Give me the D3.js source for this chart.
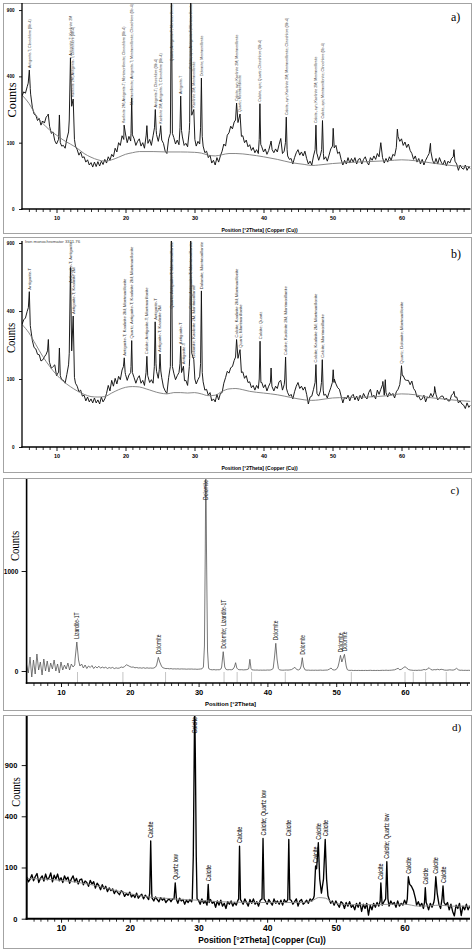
<!DOCTYPE html>
<html>
<head>
<meta charset="utf-8">
<script src="https://cdn.jsdelivr.net/npm/d3@7/dist/d3.min.js"></script>
<style>
html,body{margin:0;padding:0;background:#fff;}
svg{display:block;}
</style>
</head>
<body>
<svg id="chart" width="474" height="950" xmlns="http://www.w3.org/2000/svg"></svg>
<script>
// ================= DATA =================
const GRID_START = 5, GRID_STEP = 0.25;   // scan step (°2θ)
const xTickLabels = [10, 20, 30, 40, 50, 60];
const sqrtYTicks = [0, 100, 400, 900];
const linYTicks = [0, 1000];
const xTitleFull = "Position [°2Theta] (Copper (Cu))";
const xTitleShort = "Position [°2Theta]";
const yTitle = "Counts";
const bNote = "Iron monochromator  3311.76";

// ---- panel a ----
const aCounts = [
 290,312,305,340, 400,300,235,205, 200,178,186,160, 176,168,192,200, 155,130,135,106,
 96,108,150,90, 92,84,112,135, 400,250,200,90, 80,66,74,60, 62,50,55,44,
 49,40,50,41, 51,42,52,45, 56,48,62,54, 68,62,84,74, 100,92,122,110,
 128,100,120,105, 120,112,92,104, 112,90,100,84, 124,98,110,92, 122,180,126,104,
 132,108,98,76, 70,112,200,200, 116,96,108,94, 200,118,92,98, 88,140,500,200,
 150,90,104,96, 200,90,72,76, 60,66,48,54, 44,60,50,64, 76,96,90,124,
 132,156,146,172, 200,180,190,150, 122,100,108,88, 94,78,86,72, 80,70,150,88,
 74,82,68,78, 96,80,72,82, 74,94,113,70, 76,150,64,56, 58,46,60,72,
 80,66,74,64, 76,58,46,52, 44,64,120,70, 54,66,120,56, 62,52,66,82,
 120,110,92,70, 74,56,44,54, 46,60,48,58, 50,60,46,56, 58,46,56,62,
 50,44,60,54, 64,56,70,62, 100,60,48,58, 50,62,54,68, 64,86,120,104,
 112,92,102,86, 96,78,70,56, 64,50,58,46, 56,44,54,62, 70,76,54,46,
 58,46,60,50, 44,54,42,52, 48,58,62,52, 46,34,44,38, 36,44,34,40, 37
];
const aPeaks = [
 [[5.9,360],[6.06,439],[6.2,330]],
 [[8.8,205]],
 [[10.3,110],[10.42,201],[10.55,100]],
 [[11.85,180],[12.02,520],[12.2,240],[12.42,275],[12.6,110]],
 [[19.8,160]],
 [[20.8,130],[20.9,280],[21.0,125]],
 [[23.1,158]],
 [[24.2,150],[24.32,225],[24.45,140]],
 [[25.1,158]],
 [[26.5,130],[26.65,1100],[26.8,130]],
 [[27.9,150],[28.0,290],[28.12,140]],
 [[29.3,170],[29.45,1200],[29.6,200],[29.9,225],[30.05,110]],
 [[30.88,150],[31.0,390],[31.12,120]],
 [[35.95,180],[36.1,255],[36.3,170],[36.6,205],[36.8,120]],
 [[39.38,110],[39.48,252],[39.6,95]],
 [[41.1,105]],
 [[42.5,113]],
 [[43.18,100],[43.3,192],[43.42,80]],
 [[47.48,80],[47.6,160],[47.72,70]],
 [[48.43,80],[48.55,178],[48.68,70]],
 [[50.0,90],[50.1,148],[50.25,85]],
 [[57.0,100]],
 [[59.4,145]],
 [[64.2,98]],
 [[67.6,80]]
];
const aBackground = [[5,295],[6,254],[7,201],[8,167],[9,142],[10,124],[11,108],[12,96],[13,84],[14,70],[15,61],[16,55],[17,52],[18,55],[19,61],[20,68],[21,72],[22,75],[24,75],[26,74],[28,74],[30,73],[31,71],[32,66],[33,64],[34,67],[35,70],[36,70],[38,67],[40,62],[42,56],[44,49],[46,45],[47,43],[48,44],[50,47],[52,49],[55,51],[58,53],[60,55],[62,53],[64,49],[66,45],[68,42],[70,41]];
const aLabels = [
 [6.06, "Antigorite-T; Clinochlore (IIb-4)"],
 [12.02, "Antigorite-T; Kaolinite 2M"],
 [12.42, "Kaolinite 2M; Antigorite-T; Clinochlore (IIb-4)"],
 [19.8, "Kaolinite 2M; Antigorite-T; Montmorillonite; Clinochlore (IIb-4)"],
 [20.9, "Montmorillonite; Antigorite-T; Montmorillonite; Clinochlore (IIb-4)"],
 [24.32, "Antigorite-T; Clinochlore (IIb-4)"],
 [25.1, "Kaolinite 2M; Antigorite-T; Clinochlore (IIb-4)"],
 [26.65, "Quartz; Antigorite-T; Montmorillonite"],
 [28.0, "Antigorite-T"],
 [29.45, "Calcite, syn; Antigorite-T; Montmorillonite"],
 [29.9, "Kaolinite 2M; Montmorillonite"],
 [31.0, "Dolomite; Montmorillonite"],
 [36.1, "Calcite, syn; Kaolinite 2M; Montmorillonite"],
 [36.6, "Quartz; Montmorillonite"],
 [39.48, "Calcite, syn; Quartz; Clinochlore (IIb-4)"],
 [43.3, "Calcite, syn; Kaolinite 2M; Montmorillonite; Clinochlore (IIb-4)"],
 [47.6, "Calcite, syn; Kaolinite 2M; Montmorillonite"],
 [48.55, "Calcite, syn; Montmorillonite; Clinochlore (IIb-4)"]
];

// ---- panel b ----
const bCounts = [
 325,350,360,398, 450,305,245,214, 208,186,184,160, 164,176,186,200, 154,134,140,146,
 110,120,150,98, 96,88,114,146, 400,250,250,88, 80,66,70,56, 58,46,54,44,
 50,42,52,42, 48,40,54,44, 50,62,82,68, 96,80,102,86, 108,98,128,140,
 114,96,112,120, 120,104,88,102, 110,88,96,82, 120,108,90,98, 88,200,124,102,
 130,104,78,68, 62,104,200,200, 118,98,110,120, 200,130,120,96, 82,140,500,200,
 150,86,98,108, 200,92,70,72, 58,64,46,50, 44,60,48,62, 64,88,104,124,
 118,136,140,162, 200,180,190,150, 122,102,110,90, 92,76,82,70, 82,74,150,90,
 76,84,68,80, 100,78,68,80, 74,92,96,70, 84,120,64,56, 60,50,66,80,
 90,74,80,70, 78,60,40,54, 56,72,120,62, 56,68,120,58, 60,52,64,76,
 100,100,86,76, 72,56,42,54, 50,58,46,56, 60,48,56,46, 58,50,62,54,
 50,64,72,54, 58,50,70,60, 72,84,58,64, 54,64,58,62, 52,66,72,84,
 120,110,98,96, 96,84,94,74, 68,54,56,48, 50,58,44,54, 52,62,54,64,
 60,48,52,56, 56,48,52,46, 46,58,62,54, 54,42,46,40, 38,32,42,34, 38
];
const bPeaks = [
 [[5.92,420],[6.06,522],[6.2,320]],
 [[8.7,200],[8.82,250],[8.95,160]],
 [[10.3,120],[10.42,212],[10.55,110]],
 [[11.85,190],[12.02,697],[12.2,200],[12.42,371],[12.6,105]],
 [[19.7,140],[19.82,172],[19.95,120]],
 [[20.8,140],[20.9,245],[21.0,120]],
 [[22.98,120],[23.1,178],[23.22,110]],
 [[24.18,140],[24.3,339],[24.42,150]],
 [[24.9,130],[25.0,187],[25.12,125]],
 [[26.5,140],[26.65,1100],[26.8,140]],
 [[27.9,150],[28.0,220],[28.12,120],[28.4,141],[28.55,95]],
 [[29.3,170],[29.45,1100],[29.6,190],[29.9,165],[30.05,100]],
 [[30.88,150],[31.0,527],[31.12,120]],
 [[35.95,175],[36.1,250],[36.3,170],[36.6,205],[36.8,120]],
 [[39.38,100],[39.5,242],[39.62,90]],
 [[41.0,90],[41.1,135],[41.22,80]],
 [[43.08,100],[43.2,175],[43.32,75]],
 [[47.48,90],[47.6,147],[47.72,70]],
 [[48.4,90],[48.52,165],[48.65,70]],
 [[49.98,90],[50.1,129],[50.22,90]],
 [[57.3,93]],
 [[57.65,98]],
 [[59.9,110],[60.0,143],[60.12,110]],
 [[64.8,79]],
 [[67.6,67]]
];
const bBackground = [[5,325],[6,282],[7,227],[8,178],[9,141],[10,113],[11,93],[12,79],[13,68],[14,60],[15,55],[16,54],[17,55],[18,63],[19,71],[20,77],[21,79],[22,78],[23,73],[25,63],[26,61],[27,64],[28,64],[29,63],[30,64],[31,61],[32,57],[33,58],[34,67],[35,73],[36,74],[37,71],[38,67],[40,63],[42,59],[44,53],[46,48],[47,47],[48,48],[50,52],[52,53],[55,54],[58,57],[60,61],[62,59],[64,53],[66,50],[68,47],[70,45]];
const bLabels = [
 [6.06, "Antigorite-T"],
 [12.02, "Antigorite-T; Antigorite"],
 [12.42, "Antigorite-T; Kaolinite 2M"],
 [19.82, "Antigorite-T; Kaolinite 2M; Montmorillonite"],
 [20.9, "Quartz; Antigorite-T; Kaolinite 2M; Montmorillonite"],
 [23.1, "Calcite; Antigorite-T; Montmorillonite"],
 [24.3, "Antigorite-T"],
 [25.0, "Antigorite-T; Kaolinite 2M"],
 [26.65, "Quartz; Antigorite-T; Montmorillonite"],
 [28.0, "Antigorite-T"],
 [28.4, "Antigorite-T"],
 [29.45, "Calcite; Antigorite-T; Montmorillonite"],
 [29.9, "Dolomite; Kaolinite 2M; Montmorillonite"],
 [31.0, "Dolomite; Montmorillonite"],
 [36.1, "Calcite; Kaolinite 2M; Montmorillonite"],
 [36.6, "Quartz; Montmorillonite"],
 [39.5, "Calcite; Quartz"],
 [43.2, "Calcite; Kaolinite 2M; Montmorillonite"],
 [47.6, "Calcite; Kaolinite 2M; Montmorillonite"],
 [48.52, "Calcite; Montmorillonite"],
 [60.0, "Quartz; Dolomite; Montmorillonite"]
];

// ---- panel c ----
const cCounts = [
 60,-20,140,-60, 110,-30,170,10, 90,-40,120,0, 100,-10,80,20, 110,0,70,-20,
 90,10,60,20, 80,10,70,40, 60,150,150,50, 70,30,60,25, 50,35,55,25,
 45,30,48,28, 40,30,38,25, 35,28,36,24, 32,27,30,40, 35,45,62,55,
 45,38,40,32, 35,30,32,28, 33,27,32,28, 30,28,30,40, 80,80,80,35,
 28,24,25,22, 24,20,22,20, 22,19,21,20, 20,18,20,19, 20,18,19,17,
 18,20,22,35, 300,300,22,14, 12,14,11,13, 12,20,100,100, 15,12,14,12,
 18,50,50,15, 12,13,11,12, 14,20,60,12, 10,9,10,8, 9,8,9,8,
 10,9,11,18, 100,100,100,12, 9,8,9,10, 9,11,14,25, 37,15,10,20,
 80,80,10,8, 9,7,8,7, 8,7,8,9, 7,8,9,10, 18,30,12,10,
 15,40,100,100, 100,100,100,8, 6,7,5,6, 5,6,5,6, 5,6,5,6,
 7,5,6,5, 6,5,6,7, 6,8,6,7, 8,10,12,20, 27,12,18,32,
 43,30,15,10, 8,6,7,6, 8,7,9,15, 12,20,33,15, 10,14,12,17,
 12,17,14,9, 8,9,12,10, 9,15,27,12, 7,8,6,7, 6,7,6,6, 6
];
const cPeaks = [
 [[12.05,120],[12.3,290],[12.55,110]],
 [[23.9,60],[24.15,137],[24.35,90],[24.6,50]],
 [[30.7,40],[30.85,250],[30.97,1200],[31.05,2100],[31.15,1200],[31.3,200],[31.45,30]],
 [[33.35,40],[33.58,193],[33.8,40]],
 [[35.2,40],[35.38,83],[35.55,30]],
 [[37.3,30],[37.45,117],[37.62,25]],
 [[40.85,30],[41.05,150],[41.22,277],[41.4,120],[41.6,25]],
 [[44.9,50],[45.07,133],[45.25,40]],
 [[50.4,80],[50.62,157],[50.82,90],[51.2,167],[51.45,50],[51.6,15]]
];
const cSticks = [12.4, 19.0, 25.2, 33.7, 35.6, 37.7, 42.6, 52.2, 60.0, 61.2, 63.0, 66.0];
const cLabels = [
 [12.3, "Lizardite-1T"],
 [24.15, "Dolomite"],
 [31.05, "Dolomite"],
 [33.58, "Dolomite; Lizardite-1T"],
 [41.22, "Dolomite"],
 [45.07, "Dolomite"],
 [50.62, "Dolomite"],
 [51.2, "Dolomite"]
];

// ---- panel d ----
const dCounts = [
 66,52,60,74, 55,68,78,50, 62,70,54,76, 58,64,80,52, 72,60,76,55,
 64,50,70,58, 66,48,60,70, 52,62,46,58, 60,44,54,50, 40,56,46,52,
 36,48,42,32, 44,34,40,28, 36,30,34,24, 31,26,22,30, 27,19,24,21,
 27,18,22,17, 25,16,20,23, 15,21,18,14, 20,16,12,18, 14,11,17,13,
 16,10,13,15, 11,15,20,20, 9,16,12,14, 8,13,10,14, 11,20,20,20,
 13,8,15,9, 12,7,20,14, 9,11,5,12, 7,13,6,9, 4,11,8,12,
 6,10,7,13, 20,12,8,15, 10,6,14,9, 15,8,11,6, 13,20,20,12,
 8,14,10,7, 15,9,12,8, 13,7,14,10, 20,20,13,8, 11,15,6,12,
 14,8,10,13, 9,15,12,16, 20,20,20,20, 20,20,20,20, 15,9,12,7,
 12,8,5,11, 9,4,10,6, 11,5,7,3, 9,5,10,2, 8,4,9,0.5,
 7,3,9,5, 10,6,20,7, 11,20,20,6, 12,8,10,5, 12,6,9,7,
 13,8,20,20, 20,20,20,7, 11,6,9,4, 20,8,3,9, 5,10,20,20,
 8,4,20,20, 7,10,3,8, 2,0.3,7,4, 9,0.4,6,3, 8,3,6,4, 6
];
const dPeaks = [
 [[22.9,25],[23.05,230],[23.2,25]],
 [[26.45,15],[26.62,49],[26.8,14]],
 [[29.1,15],[29.25,150],[29.38,1000],[29.45,1800],[29.55,1000],[29.68,150],[29.8,15]],
 [[31.3,12],[31.42,45],[31.55,10]],
 [[35.85,15],[35.98,201],[36.12,14]],
 [[39.25,15],[39.4,246],[39.55,15]],
 [[43.0,14],[43.15,240],[43.3,14]],
 [[46.85,20],[47.05,106],[47.2,95],[47.45,220],[47.65,60],[47.9,25],[48.2,60],[48.45,240],[48.65,60],[48.85,20]],
 [[56.45,12],[56.55,49],[56.7,12]],
 [[57.25,15],[57.42,124],[57.58,15]],
 [[60.4,15],[60.55,67],[60.75,45],[61.0,40],[61.3,30],[61.6,15]],
 [[62.9,10],[63.02,37],[63.15,10]],
 [[64.35,15],[64.55,67],[64.75,25]],
 [[65.45,15],[65.6,41],[65.75,10]]
];
const dBackground = [[5,62],[10,56],[15,42],[18,30],[20,24],[22,19],[25,16],[28,14],[30,13],[33,11],[35,10.5],[38,10],[42,10],[45,10],[46.5,12],[47.5,17],[48.5,16],[49.5,10],[52,7.5],[56,7.5],[58,8],[60,8],[62,6],[64,6.5],[65,7],[67,6],[70,6]];
const dLabels = [
 [23.05, "Calcite"],
 [26.62, "Quartz low"],
 [29.45, "Calcite"],
 [31.42, "Calcite"],
 [35.98, "Calcite"],
 [39.4, "Calcite; Quartz low"],
 [43.15, "Calcite"],
 [47.05, "Calcite"],
 [47.45, "Calcite"],
 [48.45, "Calcite"],
 [56.55, "Calcite"],
 [57.42, "Calcite; Quartz low"],
 [60.55, "Calcite"],
 [63.02, "Calcite"],
 [64.55, "Calcite"],
 [65.6, "Calcite"]
];

// ================= RENDER =================
const svg = d3.select("#chart");
const SANS = "'Liberation Sans', Arial, Helvetica, sans-serif";
const SERIF = "'Liberation Serif', 'Times New Roman', Times, serif";

function buildScan(counts, peaks) {
  const ranges = peaks.map(p => [p[0][0], p[p.length - 1][0]]);
  const pts = [];
  counts.forEach((v, i) => {
    const x = GRID_START + i * GRID_STEP;
    if (ranges.some(r => x >= r[0] - 1e-6 && x <= r[1] + 1e-6)) return;
    pts.push([x, v]);
  });
  peaks.forEach(p => p.forEach(q => pts.push(q)));
  return pts.sort((a, b) => a[0] - b[0]);
}

const panels = [
 { counts: aCounts, peaks: aPeaks, bg: aBackground, labels: aLabels,
   frame: [3, 3, 468, 230], left: 22, ppd: 6.9, right: 470.5, top: 3, bottom: 209,
   sqrt: true, yDomain: [0, 965], yTicks: sqrtYTicks,
   minorTick: 3, majorTick: 4, xPad: 3.3, xTickFont: 5.5, yTick: 3, yPad: 4.5, yTickFont: 4.6,
   counts_pos: [12, 100], countsFont: 13, countsScale: 0.95,
   xTitle: xTitleFull, xTitlePos: [259.5, 231.5], xTitleFont: 5,
   letter: "a)", letterPos: [451, 20.5], letterFont: 12,
   labelFont: 3.6, labelScale: 1, labelGap: 2, labelColor: "#333",
   lineColor: "#111", lineWidth: 0.95, bgColor: "#7a7a7a", bgWidth: 0.9, axisW: 1.3 },
 { counts: bCounts, peaks: bPeaks, bg: bBackground, labels: bLabels, note: bNote,
   frame: [3, 237, 468, 235], left: 22, ppd: 6.9, right: 470.5, top: 241, bottom: 447,
   sqrt: true, yDomain: [0, 918], yTicks: sqrtYTicks,
   minorTick: 3, majorTick: 4, xPad: 2.7, xTickFont: 5.5, yTick: 3, yPad: 4.5, yTickFont: 4.6,
   counts_pos: [11, 338], countsFont: 13, countsScale: 0.82,
   xTitle: xTitleFull, xTitlePos: [259.5, 470], xTitleFont: 5,
   letter: "b)", letterPos: [451, 257.5], letterFont: 12,
   labelFont: 4.2, labelScale: 1, labelGap: 2, labelColor: "#333",
   lineColor: "#111", lineWidth: 0.95, bgColor: "#7a7a7a", bgWidth: 0.9, axisW: 1.3 },
 { counts: cCounts, peaks: cPeaks, sticks: cSticks, labels: cLabels,
   frame: [3, 478, 468, 232], left: 26.6, ppd: 6.88, right: 470, top: 479, bottom: 683,
   sqrt: false, yDomain: [-120, 1920], yTicks: linYTicks,
   minorTick: 3, majorTick: 4, xPad: 3, xTickFont: 7.5, yTick: 5, yPad: 3.3, yTickFont: 6.5,
   counts_pos: [15, 546], countsFont: 13, countsScale: 0.82,
   xTitle: xTitleShort, xTitlePos: [230.5, 706], xTitleFont: 6,
   letter: "c)", letterPos: [450.5, 494], letterFont: 11,
   labelFont: 7, labelScale: 0.72, labelGap: 3, labelColor: "#111",
   lineColor: "#555", lineWidth: 0.8, axisW: 1.6 },
 { counts: dCounts, peaks: dPeaks, bg: dBackground, labels: dLabels,
   frame: [3, 715, 468, 233], left: 26.7, ppd: 6.87, right: 470, top: 716, bottom: 918.7,
   sqrt: true, yDomain: [0, 1567], yTicks: sqrtYTicks,
   minorTick: 3, majorTick: 4, xPad: 2.5, xTickFont: 8.5, yTick: 5, yPad: 4.4, yTickFont: 7.5,
   counts_pos: [16, 792], countsFont: 13, countsScale: 0.8,
   xTitle: xTitleFull, xTitlePos: [262, 942.5], xTitleFont: 8.4,
   letter: "d)", letterPos: [452, 731], letterFont: 11,
   labelFont: 7.5, labelScale: 0.72, labelGap: 3, labelColor: "#000",
   lineColor: "#000", lineWidth: 1.35, bgColor: "#8a8a8a", bgWidth: 0.9, axisW: 2 }
];

const defs = svg.append("defs");

panels.forEach((P, idx) => {
  const g = svg.append("g");
  g.append("rect")
    .attr("x", P.frame[0] + 0.5).attr("y", P.frame[1] + 0.5)
    .attr("width", P.frame[2]).attr("height", P.frame[3])
    .attr("fill", "none").attr("stroke", "#a3a3a3").attr("stroke-width", 1);

  const x = d3.scaleLinear().domain([5, 70]).range([P.left, P.left + 65 * P.ppd]);
  const y = (P.sqrt ? d3.scaleSqrt() : d3.scaleLinear()).domain(P.yDomain).range([P.bottom, P.top]);

  const clipId = "clip" + idx;
  defs.append("clipPath").attr("id", clipId).append("rect")
    .attr("x", P.left).attr("y", P.top)
    .attr("width", P.right - P.left).attr("height", P.bottom - P.top);

  const scan = buildScan(P.counts, P.peaks);
  const plot = g.append("g").attr("clip-path", `url(#${clipId})`);

  if (P.sticks) {
    plot.selectAll("line.stick").data(P.sticks).join("line").attr("class", "stick")
      .attr("x1", d => x(d)).attr("x2", d => x(d))
      .attr("y1", y(0) + 1).attr("y2", P.bottom)
      .attr("stroke", "#c4c4c4").attr("stroke-width", 1);
  }

  plot.append("path").datum(scan)
    .attr("d", d3.line().x(d => x(d[0])).y(d => y(Math.max(d[1], P.yDomain[0]))))
    .attr("fill", "none").attr("stroke", P.lineColor)
    .attr("stroke-width", P.lineWidth).attr("stroke-linejoin", "round");

  if (P.bg) {
    plot.append("path").datum(P.bg)
      .attr("d", d3.line().x(d => x(d[0])).y(d => y(d[1])).curve(d3.curveMonotoneX))
      .attr("fill", "none").attr("stroke", P.bgColor).attr("stroke-width", P.bgWidth);
  }

  // axes
  const minorVals = d3.range(6, 70, 1).filter(v => v % 10 !== 0);
  g.append("g").attr("transform", `translate(0,${P.bottom})`)
    .call(d3.axisBottom(x).tickValues(minorVals).tickSize(P.minorTick).tickFormat(""))
    .call(s => s.select(".domain").remove())
    .call(s => s.selectAll("line").attr("stroke", "#000").attr("stroke-width", 0.8));
  g.append("g").attr("transform", `translate(0,${P.bottom})`)
    .call(d3.axisBottom(x).tickValues(xTickLabels).tickSize(P.majorTick).tickPadding(P.xPad))
    .call(s => s.select(".domain").remove())
    .call(s => s.selectAll("line").attr("stroke", "#000").attr("stroke-width", 0.9))
    .call(s => s.selectAll("text").attr("font-size", P.xTickFont).attr("font-weight", "bold")
      .attr("font-family", SANS).attr("fill", "#000"));
  g.append("g").attr("transform", `translate(${P.left},0)`)
    .call(d3.axisLeft(y).tickValues(P.yTicks).tickSize(P.yTick).tickPadding(P.yPad).tickFormat(d3.format("d")))
    .call(s => s.select(".domain").remove())
    .call(s => s.selectAll("line").attr("stroke", "#000").attr("stroke-width", 0.9))
    .call(s => s.selectAll("text").attr("font-size", P.yTickFont).attr("font-weight", "bold")
      .attr("font-family", SANS).attr("fill", "#000"));

  g.append("line").attr("x1", P.left).attr("x2", P.left)
    .attr("y1", P.top).attr("y2", P.bottom + P.axisW / 2)
    .attr("stroke", "#000").attr("stroke-width", P.axisW);
  g.append("line").attr("x1", P.left - P.axisW / 2).attr("x2", P.right)
    .attr("y1", P.bottom).attr("y2", P.bottom)
    .attr("stroke", "#000").attr("stroke-width", P.axisW);

  // peak labels
  const lg = g.append("g");
  P.labels.forEach(([pos, text]) => {
    const near = scan.filter(p => Math.abs(p[0] - pos) <= 0.15);
    const peak = d3.max(near, p => p[1]);
    let yb = y(Math.min(peak, P.yDomain[1])) - P.labelGap;
    const t = lg.append("text").text(text)
      .attr("font-family", SANS).attr("font-size", P.labelFont)
      .attr("fill", P.labelColor).attr("dy", "0.35em");
    const len = t.node().getComputedTextLength() * P.labelScale;
    if (yb - len < P.top + 1) yb = P.top + 1 + len;
    t.attr("transform", `translate(${x(pos)},${yb}) rotate(-90) scale(${P.labelScale},1)`);
  });

  // titles
  g.append("text")
    .attr("transform", `translate(${P.counts_pos[0]},${P.counts_pos[1]}) rotate(-90) scale(${P.countsScale},1)`)
    .attr("text-anchor", "middle").attr("dy", "0.33em")
    .attr("font-family", SERIF).attr("font-size", P.countsFont).attr("fill", "#000")
    .text(yTitle);
  g.append("text").attr("x", P.xTitlePos[0]).attr("y", P.xTitlePos[1])
    .attr("text-anchor", "middle").attr("font-family", SANS).attr("font-weight", "bold")
    .attr("font-size", P.xTitleFont).attr("fill", "#000").text(P.xTitle);
  g.append("text").attr("x", P.letterPos[0]).attr("y", P.letterPos[1])
    .attr("font-family", SERIF).attr("font-size", P.letterFont).attr("fill", "#000")
    .text(P.letter);
  if (P.note) {
    g.append("text").attr("x", 25).attr("y", P.top + 1.5)
      .attr("font-family", SANS).attr("font-size", 4.3).attr("fill", "#444").text(P.note);
  }
});
</script>
</body>
</html>
